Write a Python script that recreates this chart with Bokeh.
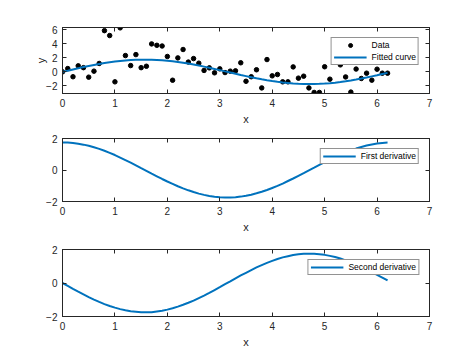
from bokeh.plotting import figure
from bokeh.layouts import column
from bokeh.models import LinearAxis, FixedTicker, Range1d, Legend, LegendItem
from bokeh.embed import file_html
from bokeh.resources import INLINE

# ---- data ----
x_vals = [round(i * 0.1, 1) for i in range(63)]
data_y = [0.0, 0.47, -0.7, 0.86, 0.6, -0.76, 0.1, 1.2, 5.9, 5.2,
          -1.43, 6.3, 2.33, 0.9, 2.47, 0.6, 0.8, 4.0, 3.8, 3.7,
          2.2, -1.2, 2.0, 3.2, 1.4, 1.9, 1.24, 0.2, 0.57, -0.14,
          0.43, -0.1, 0.1, 0.14, 1.3, -1.35, -0.7, 0.3, -2.3, 1.76,
          -0.57, -0.38, -1.43, -1.43, 0.71, -0.9, -0.62, -2.3, -2.95, -2.95,
          0.73, -1.05, 2.6, 1.0, -0.73, -2.9, 0.4, -0.95, -0.19, -1.19,
          0.38, -0.19, -0.19]
fit_y = [0.0, 0.17, 0.35, 0.52, 0.68, 0.84, 0.99, 1.13, 1.26, 1.37,
         1.47, 1.56, 1.63, 1.69, 1.72, 1.75, 1.75, 1.74, 1.70, 1.66,
         1.59, 1.51, 1.41, 1.30, 1.18, 1.05, 0.90, 0.75, 0.59, 0.42,
         0.25, 0.07, -0.10, -0.28, -0.45, -0.61, -0.77, -0.93, -1.07, -1.20,
         -1.32, -1.43, -1.53, -1.60, -1.67, -1.71, -1.74, -1.75, -1.74, -1.72,
         -1.68, -1.62, -1.55, -1.46, -1.35, -1.23, -1.10, -0.96, -0.81, -0.65,
         -0.49, -0.32, -0.15]
d1_y = [1.75, 1.74, 1.72, 1.67, 1.61, 1.54, 1.44, 1.34, 1.22, 1.09,
        0.95, 0.79, 0.63, 0.47, 0.30, 0.12, -0.05, -0.23, -0.40, -0.57,
        -0.73, -0.88, -1.03, -1.17, -1.29, -1.40, -1.50, -1.58, -1.65, -1.70,
        -1.73, -1.75, -1.75, -1.73, -1.69, -1.64, -1.57, -1.48, -1.38, -1.27,
        -1.14, -1.01, -0.86, -0.70, -0.54, -0.37, -0.20, -0.02, 0.15, 0.33,
        0.50, 0.66, 0.82, 0.97, 1.11, 1.24, 1.36, 1.46, 1.55, 1.62,
        1.68, 1.72, 1.74]
d2_y = [0.0, -0.17, -0.35, -0.52, -0.68, -0.84, -0.99, -1.13, -1.26, -1.37,
        -1.47, -1.56, -1.63, -1.69, -1.72, -1.75, -1.75, -1.74, -1.70, -1.66,
        -1.59, -1.51, -1.41, -1.30, -1.18, -1.05, -0.90, -0.75, -0.59, -0.42,
        -0.25, -0.07, 0.10, 0.28, 0.45, 0.61, 0.77, 0.93, 1.07, 1.20,
        1.32, 1.43, 1.53, 1.60, 1.67, 1.71, 1.74, 1.75, 1.74, 1.72,
        1.68, 1.62, 1.55, 1.46, 1.35, 1.23, 1.10, 0.96, 0.81, 0.65,
        0.49, 0.32, 0.15]
x_ticks = [0, 1, 2, 3, 4, 5, 6, 7]
y_ticks_top = [-2, 0, 2, 4, 6]
y_ticks_deriv = [-2, 0, 2]

BLUE = "#0072BD"
AX = "#262626"
FONT = "Liberation Sans"


def style_axis(ax, ticks, show_labels=True):
    ax.ticker = FixedTicker(ticks=ticks)
    ax.axis_line_color = AX
    ax.axis_line_width = 1
    ax.major_tick_line_color = AX
    ax.major_tick_in = 4
    ax.major_tick_out = 0
    ax.minor_tick_line_color = None
    ax.major_label_text_font = FONT
    ax.major_label_text_font_size = "10px"
    ax.major_label_text_color = AX
    ax.axis_label_text_font = FONT
    ax.axis_label_text_font_size = "11px"
    ax.axis_label_text_font_style = "normal"
    ax.axis_label_text_color = AX
    if not show_labels:
        ax.major_label_text_color = None
        ax.major_label_text_font_size = "1px"
        ax.major_label_standoff = 0


def make_fig(top, frame_h, bottom, yr, yticks, ylabel=None):
    p = figure(frame_width=367, frame_height=frame_h,
               min_border_left=62, min_border_right=45,
               min_border_top=top, min_border_bottom=bottom,
               x_range=Range1d(0, 7), y_range=Range1d(*yr),
               output_backend="svg", toolbar_location=None)
    p.grid.visible = False
    p.outline_line_color = AX
    p.background_fill_color = "white"
    p.border_fill_color = "white"
    style_axis(p.xaxis[0], x_ticks)
    style_axis(p.yaxis[0], yticks)
    p.xaxis[0].axis_label = "x"
    p.xaxis[0].major_label_standoff = 5
    p.xaxis[0].axis_label_standoff = 3
    p.yaxis[0].major_label_standoff = 5
    if ylabel:
        p.yaxis[0].axis_label = ylabel
        p.yaxis[0].axis_label_standoff = -4
    ra = LinearAxis()
    style_axis(ra, yticks, False)
    p.add_layout(ra, "right")
    ta = LinearAxis()
    style_axis(ta, x_ticks, False)
    p.add_layout(ta, "above")
    return p


def make_legend(items):
    leg = Legend(items=items, location="top_right")
    leg.margin = 10
    leg.border_line_color = AX
    leg.border_line_width = 1
    leg.background_fill_color = "white"
    leg.background_fill_alpha = 1
    leg.label_text_font = FONT
    leg.label_text_font_size = "8.5px"
    leg.label_text_color = "#000000"
    leg.glyph_width = 33
    leg.glyph_height = 10
    leg.label_height = 10
    leg.label_standoff = 5
    leg.padding = 2
    leg.spacing = 2
    return leg


# ---- top panel ----
p1 = make_fig(27, 66, 35, (-3.1, 6.35), y_ticks_top, "y")
r_data = p1.scatter(x_vals, data_y, size=4.5, color="black", marker="circle")
r_fit = p1.line(x_vals, fit_y, line_color=BLUE, line_width=2)
leg1 = make_legend([LegendItem(label="Data", renderers=[r_data]),
                    LegendItem(label="Fitted curve", renderers=[r_fit])])
p1.add_layout(leg1, "center")

# ---- middle panel ----
p2 = make_fig(10, 63, 39, (-2, 2), y_ticks_deriv)
r_d1 = p2.line(x_vals, d1_y, line_color=BLUE, line_width=2)
leg2 = make_legend([LegendItem(label="First derivative", renderers=[r_d1])])
p2.add_layout(leg2, "center")

# ---- bottom panel ----
p3 = make_fig(9, 67, 39, (-2, 2), y_ticks_deriv)
r_d2 = p3.line(x_vals, d2_y, line_color=BLUE, line_width=2)
leg3 = make_legend([LegendItem(label="Second derivative", renderers=[r_d2])])
p3.add_layout(leg3, "center")

layout = column(p1, p2, p3, spacing=0)
open("out.html", "w").write(file_html(layout, INLINE))
